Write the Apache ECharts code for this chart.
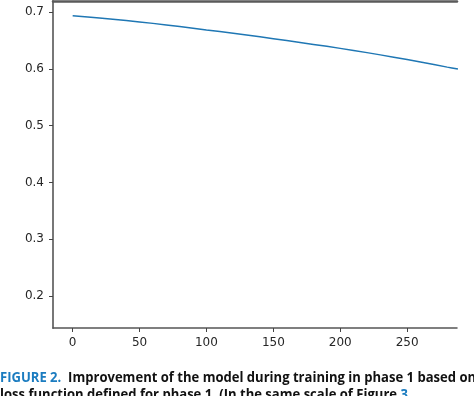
<!DOCTYPE html>
<html>
<head>
<meta charset="utf-8">
<script src="https://cdn.jsdelivr.net/npm/echarts@6/dist/echarts.min.js"></script>
<style>
  html, body { margin: 0; padding: 0; background: #fff; }
  #chart { width: 474px; height: 396px; }
</style>
</head>
<body>
<div id="chart"></div>
<script>
// training steps and loss
const steps = [0, 20, 40, 60, 80, 100, 120, 140, 160, 180, 200, 220, 240, 260, 280, 288];
const loss = [0.6935, 0.6895, 0.6850, 0.6800, 0.6745, 0.6685, 0.6625, 0.6563, 0.6498, 0.6430, 0.6360, 0.6285, 0.6205, 0.6120, 0.6030, 0.5995];
// tick labels
const xTicks = [0, 50, 100, 150, 200, 250];
const yTicks = [0.2, 0.3, 0.4, 0.5, 0.6, 0.7];

const tickFont = { color: "#262626", fontSize: 12, fontFamily: "DejaVu Sans" };

const chart = echarts.init(document.getElementById("chart"));

chart.setOption({
  animation: false,
  grid: { left: 53, right: 17, top: 1, bottom: 68 },
  xAxis: [
    {
      type: "value",
      min: -14.7,
      max: 287.3,
      splitLine: { show: false },
      axisLine: { onZero: false, lineStyle: { color: "#555", width: 1.5 } },
      axisTick: { customValues: xTicks, length: 4, lineStyle: { color: "#444" } },
      axisLabel: Object.assign({ customValues: xTicks, margin: 9 }, tickFont),
    },
    {
      // top spine
      type: "value",
      position: "top",
      min: -14.7,
      max: 287.3,
      splitLine: { show: false },
      axisLine: { show: true, onZero: false, lineStyle: { color: "#5a5a5a", width: 2.5 } },
      axisTick: { show: false },
      axisLabel: { show: false },
    },
  ],
  yAxis: {
    type: "value",
    min: 0.1437,
    max: 0.7194,
    splitLine: { show: false },
    axisLine: { show: true, onZero: false, lineStyle: { color: "#777", width: 2 } },
    axisTick: { show: true, customValues: yTicks, length: 4, lineStyle: { color: "#444" } },
    axisLabel: Object.assign(
      { customValues: yTicks, margin: 9, formatter: (v) => v.toFixed(1) },
      tickFont
    ),
  },
  series: [
    {
      type: "line",
      data: steps.map((s, i) => [s, loss[i]]),
      showSymbol: false,
      smooth: 0.3,
      lineStyle: { color: "#1f77b4", width: 1.5 },
    },
  ],
  graphic: [
    {
      type: "text",
      left: 0,
      top: 370,
      scaleX: 0.87,
      style: {
        text: "{b|FIGURE 2.}  Improvement of the model during training in phase 1 based on",
        font: "bold 15px 'Open Sans'",
        fill: "#111",
        rich: {
          b: { fill: "#1b7cc0", font: "bold 15px 'Open Sans'" },
        },
      },
    },
    {
      type: "text",
      left: 0,
      top: 387,
      scaleX: 0.87,
      style: {
        text: "loss function defined for phase 1. (In the same scale of Figure {b|3}",
        font: "bold 15px 'Open Sans'",
        fill: "#111",
        rich: {
          b: { fill: "#1b7cc0", font: "bold 15px 'Open Sans'" },
        },
      },
    },
  ],
});
</script>
</body>
</html>
